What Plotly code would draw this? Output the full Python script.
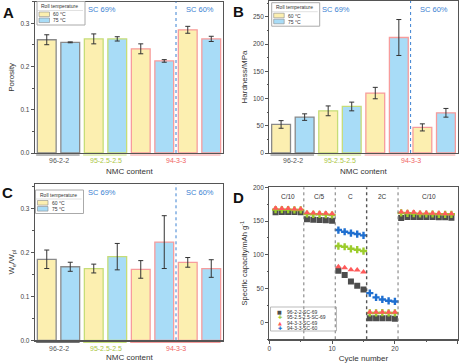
import plotly.graph_objects as go

W, H = 460, 363
FONT = "Arial, Liberation Sans, sans-serif"

# ---------------- data ----------------
groups = ["96-2-2", "95-2.5-2.5", "94-3-3", "94-3-3"]
sc_labels = ["SC 69%", "SC 60%"]
temps = ["60 °C", "75 °C"]

porosity_60 = [0.262, 0.264, 0.241, 0.285]
porosity_60_err = [0.0115, 0.0115, 0.0115, 0.008]
porosity_75 = [0.256, 0.264, 0.213, 0.264]
porosity_75_err = [0.001, 0.005, 0.003, 0.006]

hardness_60 = [52.4, 77.4, 110, 47]
hardness_60_err = [7, 9, 10.5, 6.5]
hardness_75 = [65.9, 85.4, 212, 73.8]
hardness_75_err = [6, 8, 33, 8]

wratio_60 = [0.184, 0.163, 0.161, 0.177]
wratio_60_err = [0.021, 0.010, 0.020, 0.011]
wratio_75 = [0.167, 0.190, 0.223, 0.163]
wratio_75_err = [0.0103, 0.030, 0.060, 0.020]

cycles = list(range(1, 30))
cap_96 = [163, 163.5, 163.5, 163.5, 163, 152.6, 152.1, 151.6, 151.1, 150.6,
          76.4, 70, 60.7, 54.2, 48.9, 6, 6, 6, 6, 5.5,
          154.5, 156, 156, 156, 156, 156, 155.5, 155.5, 155]
cap_95 = [167, 167, 167, 166.5, 166.5, 160.5, 160, 160, 159.5, 159,
          113, 112, 109, 107.6, 105.6, 14, 14, 14.5, 14, 14,
          162, 161.5, 161, 160.5, 160.5, 160.5, 160, 160, 160]
cap_94 = [169, 168.5, 168.5, 168, 168, 162.5, 162, 161.5, 161.5, 161,
          82.4, 80.9, 77.9, 77.5, 74.5, 15, 15, 15, 15, 15,
          163.5, 163, 163, 162, 162, 161.5, 161.5, 161, 161]
cap_94_60 = [None] * 10 + [136.7, 134.2, 132.3, 130.8, 128.9,
                           43.4, 37, 34, 32, 31] + [None] * 9
series_names = ["96-2-2-SC-69", "95-2.5-2.5-SC-69", "94-3-3-SC-69", "94-3-3-SC-60"]
rate_labels = ["C/10", "C/5", "C", "2C", "C/10"]
rate_label_x = [3, 8, 13, 18, 25.5]
rate_bounds = [5.5, 10.5, 15.5, 20.5]

# ---------------- styles ----------------
YEL = "#fcefb0"
BLU = "#a8dcf7"
EDGE = {"96-2-2": "#8a8a8a", "95-2.5-2.5": "#c6dd78", "94-3-3": "#f79c9c"}
TXT = {"96-2-2": "#555555", "95-2.5-2.5": "#a9c63e", "94-3-3": "#f06464"}
SCBLUE = "#3c82d2"
AX = "#555555"


def px(x):
    return x / W


def py(y):
    return 1 - y / H


fig = go.Figure()
annotations = []
shapes = []


def ann(**kw):
    kw.setdefault("xanchor", "center")
    kw.setdefault("yanchor", "middle")
    kw.setdefault("showarrow", False)
    annotations.append(kw)


panels = [
    dict(ax="", porosity=(porosity_60, porosity_60_err, porosity_75, porosity_75_err),
         box=(35, 223, 1.7, 153), rng=[0, 0.35], dtick=0.1, fmt=".1f", title="Porosity",
         leg=(37, 1.5), letter=("A", 8.5, 12.5), under=155, lab=161, nmc=171.5),
    dict(ax="2", porosity=(hardness_60, hardness_60_err, hardness_75, hardness_75_err),
         box=(269.3, 457.7, 1.0, 153), rng=[0, 279], dtick=50, fmt="d", title="Hardness/MPa",
         leg=(271.7, 2.7), letter=("B", 238.5, 11.5), under=155, lab=161, nmc=171.5),
    dict(ax="3", porosity=(wratio_60, wratio_60_err, wratio_75, wratio_75_err),
         box=(35, 223, 184, 340.3), rng=[0, 0.355], dtick=0.1, fmt=".1f",
         title="W<sub>e</sub>/W<sub>pl</sub>",
         leg=(35.5, 190), letter=("C", 7.5, 192.5), under=342.5, lab=348.5, nmc=357),
]

for p in panels:
    a = p["ax"]
    xa, ya = "x" + a, "y" + a
    v60, e60, v75, e75 = p["porosity"]
    pos60 = [2 * i + 1 for i in range(len(v60))]
    pos75 = [2 * i + 2 for i in range(len(v75))]
    edges = [EDGE[g] for g in groups]
    fig.add_trace(go.Bar(x=pos60, y=v60, width=0.8, xaxis=xa, yaxis=ya, name=temps[0],
                         marker=dict(color=YEL, line=dict(color=edges, width=1.3)),
                         error_y=dict(type="data", array=e60, color="#333333", thickness=1, width=2.5),
                         showlegend=False))
    fig.add_trace(go.Bar(x=pos75, y=v75, width=0.8, xaxis=xa, yaxis=ya, name=temps[1],
                         marker=dict(color=BLU, line=dict(color=edges, width=1.3)),
                         error_y=dict(type="data", array=e75, color="#333333", thickness=1, width=2.5),
                         showlegend=False))
    x0, x1, y0, y1 = p["box"]
    lay_x = dict(domain=[px(x0), px(x1)], range=[0.5, 8.5], showticklabels=False, ticks="",
                 showgrid=False, zeroline=False, showline=True, linecolor=AX, linewidth=1.2,
                 mirror=True, anchor=ya, automargin=False)
    lay_y = dict(domain=[py(y1), py(y0)], range=p["rng"], dtick=p["dtick"], tickformat=p["fmt"],
                 ticks="outside", ticklen=3, tickcolor=AX, tickwidth=1,
                 minor=dict(ticks="outside", ticklen=1.5, tickcolor=AX, dtick=p["dtick"] / 2),
                 showgrid=False, zeroline=False, showline=True, linecolor=AX, linewidth=1.2,
                 mirror=True, anchor=xa, automargin=False,
                 tickfont=dict(size=6.5, color="#444444", family=FONT),
                 title=dict(text=p["title"], font=dict(size=8, color="#333333", family=FONT), standoff=4))
    fig.update_layout(**{"xaxis" + a: lay_x, "yaxis" + a: lay_y})

    # SC divider and labels
    shapes.append(dict(type="line", xref=xa, yref=ya + " domain", x0=6.5, x1=6.5, y0=0, y1=1,
                       line=dict(color=SCBLUE, width=1, dash="dot")))
    for txt, xx in zip(sc_labels, [3.35, 7.5]):
        ann(text=txt, xref=xa, yref="paper", x=xx, y=py(y0 + 8),
            font=dict(size=7.5, color=SCBLUE, family=FONT))
    # group underlines and labels
    spans = [("96-2-2", 1, 2), ("95-2.5-2.5", 3, 4), ("94-3-3", 5, 8)]
    for g, f, l in spans:
        shapes.append(dict(type="line", xref=xa, yref="paper", x0=f - 0.45, x1=l + 0.4,
                           y0=py(p["under"]), y1=py(p["under"]),
                           line=dict(color=EDGE[g] if g != "96-2-2" else "#777777", width=1)))
        ann(text=g, xref=xa, yref="paper", x=(f + l) / 2, y=py(p["lab"]),
            font=dict(size=7, color=TXT[g], family=FONT))
    ann(text="NMC content", xref=xa + " domain", yref="paper", x=0.5, y=py(p["nmc"]),
        font=dict(size=8, color="#333333", family=FONT))
    # panel letter
    L, lx, ly = p["letter"]
    ann(text="<b>%s</b>" % L, xref="paper", yref="paper", x=px(lx), y=py(ly),
        font=dict(size=15, color="#111111", family=FONT))
    # legend box
    gx, gy = p["leg"]
    shapes.append(dict(type="rect", xref="paper", yref="paper", x0=px(gx), x1=px(gx + 48),
                       y0=py(gy + 23.5), y1=py(gy), line=dict(color="#aaaaaa", width=1)))
    shapes.append(dict(type="line", xref="paper", yref="paper", x0=px(gx), x1=px(gx + 46),
                       y0=py(gy + 9), y1=py(gy + 9), line=dict(color="#cccccc", width=0.6)))
    ann(text="Roll temperature", xref="paper", yref="paper", x=px(gx + 2), y=py(gy + 4.7),
        xanchor="left", font=dict(size=5, color="#333333", family=FONT))
    for k, (col, t) in enumerate(zip([YEL, BLU], temps)):
        yy = gy + 10.5 + 6 * k
        shapes.append(dict(type="rect", xref="paper", yref="paper", x0=px(gx + 2), x1=px(gx + 12.5),
                           y0=py(yy + 4.6), y1=py(yy), fillcolor=col,
                           line=dict(color="#888888", width=0.6)))
        ann(text=t, xref="paper", yref="paper", x=px(gx + 14), y=py(yy + 2.4),
            xanchor="left", font=dict(size=5, color="#333333", family=FONT))

# ---------------- panel D ----------------
d_series = [(cap_94_60, "#1f6fd0", "cross", 4), (cap_96, "#4d4d4d", "square", 1),
            (cap_95, "#9ccc2c", "cross", 2), (cap_94, "#ff5a5a", "triangle-up", 3)]
for (vals, col, sym, rank) in d_series:
    fig.add_trace(go.Scatter(x=cycles, y=vals, mode="markers", xaxis="x4", yaxis="y4",
                             name=series_names[rank - 1], showlegend=False,
                             marker=dict(color=col, symbol=sym, size=6, line=dict(width=0))))

fig.update_layout(
    xaxis4=dict(domain=[px(269.3), px(457.7)], range=[0, 30], dtick=10, ticks="outside",
                ticklen=3, tickcolor=AX, minor=dict(ticks="outside", ticklen=1.5, dtick=5, tickcolor=AX),
                showgrid=False, zeroline=False, showline=True, linecolor=AX, linewidth=1.2,
                mirror=True, anchor="y4", automargin=False,
                tickfont=dict(size=6.5, color="#444444", family=FONT),
                title=dict(text="Cycle number", font=dict(size=8, color="#333333", family=FONT), standoff=4)),
    yaxis4=dict(domain=[py(339.3), py(187.3)], range=[-25, 200], dtick=50, ticks="outside",
                ticklen=3, tickcolor=AX, minor=dict(ticks="outside", ticklen=1.5, dtick=25, tickcolor=AX),
                showgrid=False, zeroline=False, showline=True, linecolor=AX, linewidth=1.2,
                mirror=True, anchor="x4", automargin=False,
                tickfont=dict(size=6.5, color="#444444", family=FONT),
                title=dict(text="Specific capacity/mAh g<sup>-1</sup>",
                           font=dict(size=7.5, color="#333333", family=FONT), standoff=4)),
)
for b in rate_bounds:
    shapes.append(dict(type="line", xref="x4", yref="y4 domain", x0=b, x1=b, y0=0, y1=1,
                       line=dict(color="#777777" if b != 15.5 else "#555555",
                                 width=1 if b != 15.5 else 1.4, dash="dot")))
for t, xx in zip(rate_labels, rate_label_x):
    ann(text=t, xref="x4", yref="y4", x=xx, y=186, font=dict(size=6.5, color="#333333", family=FONT))
ann(text="<b>D</b>", xref="paper", yref="paper", x=px(238.5), y=py(197.5),
    font=dict(size=15, color="#111111", family=FONT))
# legend for D
shapes.append(dict(type="rect", xref="paper", yref="paper", x0=px(270.5), x1=px(336.5),
                   y0=py(331), y1=py(307), line=dict(color="#aaaaaa", width=0.8)))
glyphs = [("■", "#4d4d4d"), ("✚", "#9ccc2c"), ("▲", "#ff5a5a"), ("✚", "#1f6fd0")]
for k, ((gl, col), nm) in enumerate(zip(glyphs, series_names)):
    yy = 311.5 + 5.6 * k
    ann(text=gl, xref="paper", yref="paper", x=px(279.5), y=py(yy),
        font=dict(size=5, color=col, family="DejaVu Sans"))
    ann(text=nm, xref="paper", yref="paper", x=px(285), y=py(yy), xanchor="left",
        font=dict(size=5, color="#333333", family=FONT))

fig.update_layout(width=W, height=H, margin=dict(l=0, r=0, t=0, b=0),
                  paper_bgcolor="white", plot_bgcolor="white", bargap=0.2,
                  annotations=annotations, shapes=shapes, showlegend=False,
                  font=dict(family=FONT), hovermode=False)
fig.write_html("out.html", config={"displayModeBar": False, "staticPlot": True},
               post_script="document.body.style.margin='0';document.body.style.overflow='hidden';")
